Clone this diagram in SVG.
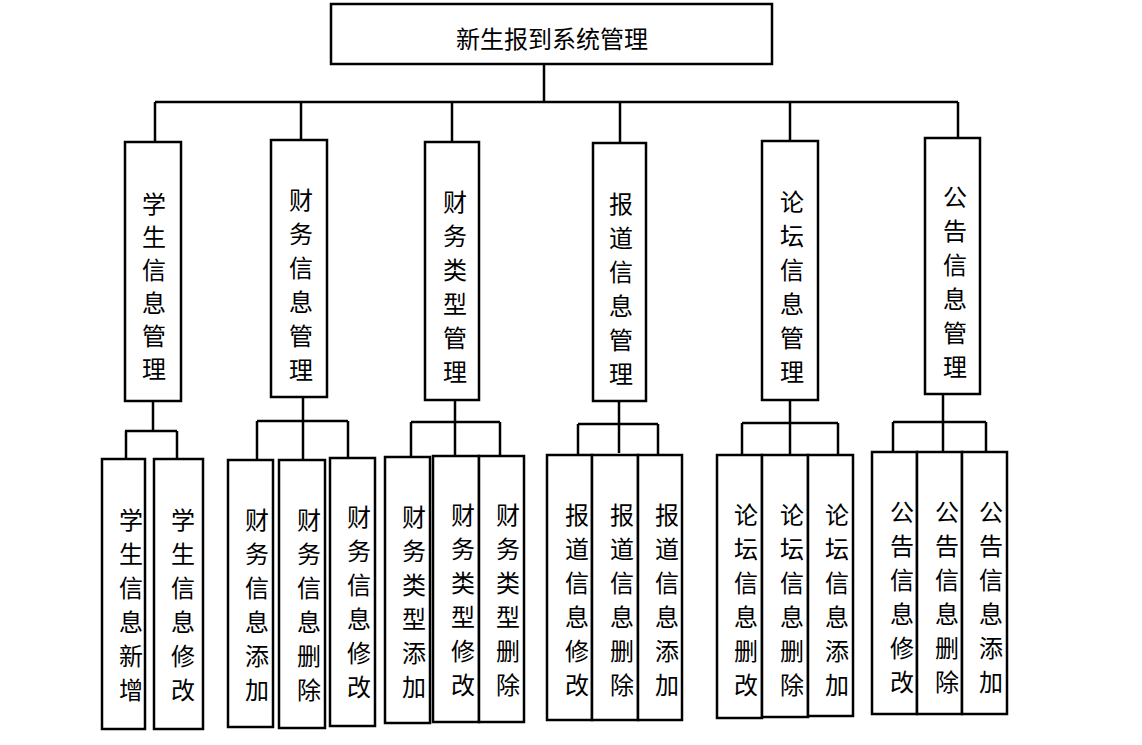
<svg xmlns="http://www.w3.org/2000/svg" width="1142" height="745" viewBox="0 0 1142 745">
<style>
rect{fill:#fff;stroke:#000;stroke-width:2.5}
line{stroke:#000;stroke-width:2.5}
text{font-family:"Noto Sans CJK SC","Liberation Serif",serif;font-size:24px;fill:#000;text-anchor:middle}
</style>
<rect x="0" y="0" width="1142" height="745" style="stroke:none"/>
<g id="connectors">
<line x1="544" y1="64" x2="544" y2="102"/>
<line x1="155" y1="102" x2="958" y2="102"/>
<line x1="155" y1="102" x2="155" y2="142"/>
<line x1="301" y1="102" x2="301" y2="140"/>
<line x1="452" y1="102" x2="452" y2="142"/>
<line x1="620" y1="102" x2="620" y2="143"/>
<line x1="790" y1="102" x2="790" y2="141"/>
<line x1="958" y1="102" x2="958" y2="138"/>
<line x1="153" y1="401" x2="153" y2="431"/><line x1="125" y1="431" x2="177" y2="431"/><line x1="126" y1="431" x2="126" y2="459"/><line x1="177" y1="431" x2="177" y2="459"/>
<line x1="303" y1="397" x2="303" y2="460"/><line x1="257" y1="421" x2="348" y2="421"/><line x1="257" y1="421" x2="257" y2="460"/><line x1="348" y1="421" x2="348" y2="458"/>
<line x1="455" y1="400" x2="455" y2="456"/><line x1="411" y1="422" x2="500" y2="422"/><line x1="411" y1="422" x2="411" y2="457"/><line x1="500" y1="422" x2="500" y2="456"/>
<line x1="619" y1="401" x2="619" y2="453"/><line x1="578" y1="424" x2="658" y2="424"/><line x1="578" y1="424" x2="578" y2="455"/><line x1="658" y1="424" x2="658" y2="455"/>
<line x1="790" y1="400" x2="790" y2="455"/><line x1="742" y1="423" x2="838" y2="423"/><line x1="742" y1="423" x2="742" y2="455"/><line x1="838" y1="423" x2="838" y2="455"/>
<line x1="943" y1="394" x2="943" y2="452"/><line x1="893" y1="422" x2="986" y2="422"/><line x1="893" y1="422" x2="893" y2="452"/><line x1="986" y1="422" x2="986" y2="452"/>
</g>
<g id="root"><rect x="331" y="4" width="441" height="60"/><text x="552" y="48">新生报到系统管理</text></g>
<g id="m1"><rect x="125" y="142" width="56" height="259"/><text x="154" y="213"><tspan x="154">学</tspan><tspan x="154" dy="33">生</tspan><tspan x="154" dy="33">信</tspan><tspan x="154" dy="33">息</tspan><tspan x="154" dy="33">管</tspan><tspan x="154" dy="33">理</tspan></text></g>
<g id="m2"><rect x="271" y="140" width="56" height="257"/><text x="301" y="209"><tspan x="301">财</tspan><tspan x="301" dy="34">务</tspan><tspan x="301" dy="34">信</tspan><tspan x="301" dy="34">息</tspan><tspan x="301" dy="34">管</tspan><tspan x="301" dy="34">理</tspan></text></g>
<g id="m3"><rect x="425" y="142" width="54" height="258"/><text x="455" y="211"><tspan x="455">财</tspan><tspan x="455" dy="34">务</tspan><tspan x="455" dy="34">类</tspan><tspan x="455" dy="34">型</tspan><tspan x="455" dy="34">管</tspan><tspan x="455" dy="34">理</tspan></text></g>
<g id="m4"><rect x="593" y="143" width="53" height="258"/><text x="621" y="213"><tspan x="621">报</tspan><tspan x="621" dy="34">道</tspan><tspan x="621" dy="34">信</tspan><tspan x="621" dy="34">息</tspan><tspan x="621" dy="34">管</tspan><tspan x="621" dy="34">理</tspan></text></g>
<g id="m5"><rect x="762" y="141" width="56" height="259"/><text x="792" y="211"><tspan x="792">论</tspan><tspan x="792" dy="34">坛</tspan><tspan x="792" dy="34">信</tspan><tspan x="792" dy="34">息</tspan><tspan x="792" dy="34">管</tspan><tspan x="792" dy="34">理</tspan></text></g>
<g id="m6"><rect x="925" y="138" width="55" height="256"/><text x="955" y="206"><tspan x="955">公</tspan><tspan x="955" dy="34">告</tspan><tspan x="955" dy="34">信</tspan><tspan x="955" dy="34">息</tspan><tspan x="955" dy="34">管</tspan><tspan x="955" dy="34">理</tspan></text></g>
<g id="b1"><rect x="102" y="459" width="43" height="270"/><text x="131" y="529"><tspan x="131">学</tspan><tspan x="131" dy="34">生</tspan><tspan x="131" dy="34">信</tspan><tspan x="131" dy="34">息</tspan><tspan x="131" dy="34">新</tspan><tspan x="131" dy="34">增</tspan></text></g>
<g id="b2"><rect x="154" y="459" width="49" height="270"/><text x="183" y="529"><tspan x="183">学</tspan><tspan x="183" dy="34">生</tspan><tspan x="183" dy="34">信</tspan><tspan x="183" dy="34">息</tspan><tspan x="183" dy="34">修</tspan><tspan x="183" dy="34">改</tspan></text></g>
<g id="b3"><rect x="228" y="460" width="45" height="267"/><text x="257" y="529"><tspan x="257">财</tspan><tspan x="257" dy="34">务</tspan><tspan x="257" dy="34">信</tspan><tspan x="257" dy="34">息</tspan><tspan x="257" dy="34">添</tspan><tspan x="257" dy="34">加</tspan></text></g>
<g id="b4"><rect x="279" y="460" width="46" height="268"/><text x="309" y="529"><tspan x="309">财</tspan><tspan x="309" dy="34">务</tspan><tspan x="309" dy="34">信</tspan><tspan x="309" dy="34">息</tspan><tspan x="309" dy="34">删</tspan><tspan x="309" dy="34">除</tspan></text></g>
<g id="b5"><rect x="330" y="458" width="45" height="268"/><text x="359" y="526"><tspan x="359">财</tspan><tspan x="359" dy="34">务</tspan><tspan x="359" dy="34">信</tspan><tspan x="359" dy="34">息</tspan><tspan x="359" dy="34">修</tspan><tspan x="359" dy="34">改</tspan></text></g>
<g id="b6"><rect x="385" y="457" width="45" height="266"/><text x="414" y="526"><tspan x="414">财</tspan><tspan x="414" dy="34">务</tspan><tspan x="414" dy="34">类</tspan><tspan x="414" dy="34">型</tspan><tspan x="414" dy="34">添</tspan><tspan x="414" dy="34">加</tspan></text></g>
<g id="b7"><rect x="433" y="456" width="46" height="266"/><text x="463" y="524"><tspan x="463">财</tspan><tspan x="463" dy="34">务</tspan><tspan x="463" dy="34">类</tspan><tspan x="463" dy="34">型</tspan><tspan x="463" dy="34">修</tspan><tspan x="463" dy="34">改</tspan></text></g>
<g id="b8"><rect x="479" y="456" width="45" height="266"/><text x="508" y="524"><tspan x="508">财</tspan><tspan x="508" dy="34">务</tspan><tspan x="508" dy="34">类</tspan><tspan x="508" dy="34">型</tspan><tspan x="508" dy="34">删</tspan><tspan x="508" dy="34">除</tspan></text></g>
<g id="b9"><rect x="547" y="455" width="45" height="265"/><text x="577" y="524"><tspan x="577">报</tspan><tspan x="577" dy="34">道</tspan><tspan x="577" dy="34">信</tspan><tspan x="577" dy="34">息</tspan><tspan x="577" dy="34">修</tspan><tspan x="577" dy="34">改</tspan></text></g>
<g id="b10"><rect x="592" y="455" width="46" height="265"/><text x="622" y="524"><tspan x="622">报</tspan><tspan x="622" dy="34">道</tspan><tspan x="622" dy="34">信</tspan><tspan x="622" dy="34">息</tspan><tspan x="622" dy="34">删</tspan><tspan x="622" dy="34">除</tspan></text></g>
<g id="b11"><rect x="638" y="455" width="44" height="265"/><text x="667" y="524"><tspan x="667">报</tspan><tspan x="667" dy="34">道</tspan><tspan x="667" dy="34">信</tspan><tspan x="667" dy="34">息</tspan><tspan x="667" dy="34">添</tspan><tspan x="667" dy="34">加</tspan></text></g>
<g id="b12"><rect x="717" y="455" width="45" height="263"/><text x="746" y="524"><tspan x="746">论</tspan><tspan x="746" dy="34">坛</tspan><tspan x="746" dy="34">信</tspan><tspan x="746" dy="34">息</tspan><tspan x="746" dy="34">删</tspan><tspan x="746" dy="34">改</tspan></text></g>
<g id="b13"><rect x="762" y="455" width="46" height="262"/><text x="792" y="524"><tspan x="792">论</tspan><tspan x="792" dy="34">坛</tspan><tspan x="792" dy="34">信</tspan><tspan x="792" dy="34">息</tspan><tspan x="792" dy="34">删</tspan><tspan x="792" dy="34">除</tspan></text></g>
<g id="b14"><rect x="808" y="455" width="45" height="261"/><text x="837" y="524"><tspan x="837">论</tspan><tspan x="837" dy="34">坛</tspan><tspan x="837" dy="34">信</tspan><tspan x="837" dy="34">息</tspan><tspan x="837" dy="34">添</tspan><tspan x="837" dy="34">加</tspan></text></g>
<g id="b15"><rect x="872" y="452" width="45" height="262"/><text x="902" y="521"><tspan x="902">公</tspan><tspan x="902" dy="34">告</tspan><tspan x="902" dy="34">信</tspan><tspan x="902" dy="34">息</tspan><tspan x="902" dy="34">修</tspan><tspan x="902" dy="34">改</tspan></text></g>
<g id="b16"><rect x="917" y="452" width="45" height="262"/><text x="947" y="521"><tspan x="947">公</tspan><tspan x="947" dy="34">告</tspan><tspan x="947" dy="34">信</tspan><tspan x="947" dy="34">息</tspan><tspan x="947" dy="34">删</tspan><tspan x="947" dy="34">除</tspan></text></g>
<g id="b17"><rect x="962" y="452" width="45" height="262"/><text x="991" y="521"><tspan x="991">公</tspan><tspan x="991" dy="34">告</tspan><tspan x="991" dy="34">信</tspan><tspan x="991" dy="34">息</tspan><tspan x="991" dy="34">添</tspan><tspan x="991" dy="34">加</tspan></text></g>
</svg>
